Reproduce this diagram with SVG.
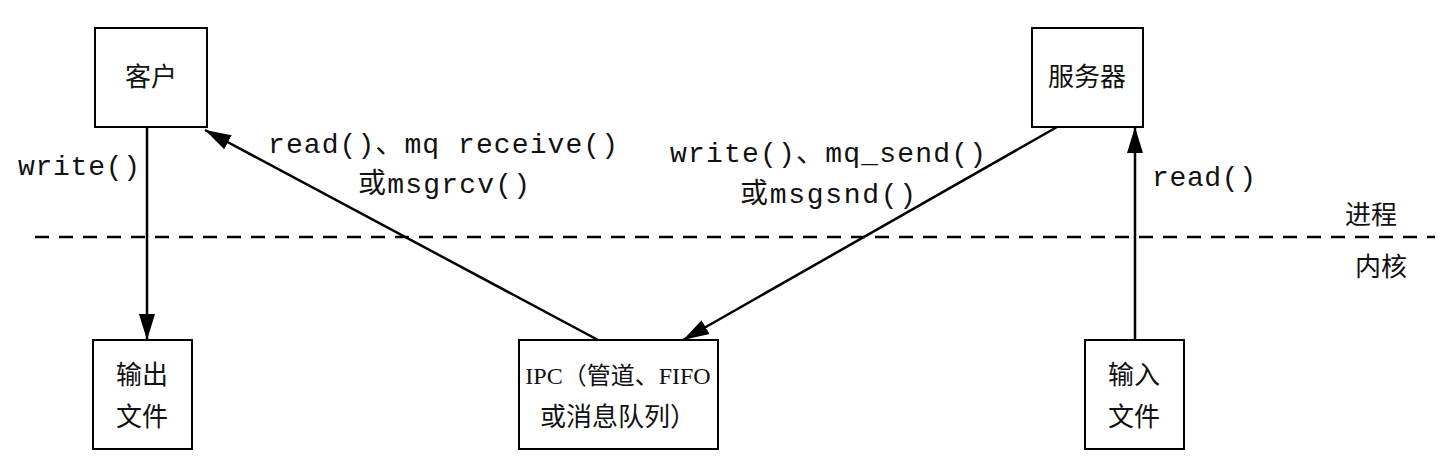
<svg xmlns="http://www.w3.org/2000/svg" width="1450" height="476" viewBox="0 0 1450 476">
<style>
.box{fill:#fff;stroke:#000;stroke-width:2}
.cn{font-family:"Noto Sans CJK SC",sans-serif;font-size:26px;fill:#111}
.ipc{font-family:"Liberation Serif","Noto Sans CJK SC",serif;font-size:24px;fill:#111}
.mono{font-family:"Liberation Mono","Noto Sans CJK SC",monospace;font-size:28px;fill:#111}
.ln{stroke:#000;stroke-width:2.5;fill:none}
</style>
<defs>
<marker id="b" markerWidth="26" markerHeight="20" refX="26" refY="10" orient="auto" markerUnits="userSpaceOnUse" viewBox="0 0 26 20"><path d="M0,2L26,10L0,18z" fill="#000"/></marker></defs>
<rect width="1450" height="476" fill="#fff"/>
<g id="client"><rect class="box" x="95" y="28" width="112" height="99"/><text class="cn" x="151" y="86" text-anchor="middle">客户</text></g>
<g id="server"><rect class="box" x="1032" y="28" width="111" height="99"/><text class="cn" x="1087" y="86" text-anchor="middle">服务器</text></g>
<g id="outfile"><rect class="box" x="93" y="340" width="99" height="109"/><text class="cn" x="142" y="384" text-anchor="middle">输出</text><text class="cn" x="142" y="426" text-anchor="middle">文件</text></g>
<g id="ipc"><rect class="box" x="519" y="340" width="199" height="109"/><text class="ipc" x="618" y="384" text-anchor="middle">IPC（管道、FIFO</text><text class="cn" x="618" y="426" text-anchor="middle">或消息队列）</text></g>
<g id="infile"><rect class="box" x="1085" y="340" width="99" height="109"/><text class="cn" x="1134" y="384" text-anchor="middle">输入</text><text class="cn" x="1134" y="426" text-anchor="middle">文件</text></g>
<g id="connectors">
<line x1="35" y1="237" x2="1435" y2="237" stroke="#000" stroke-width="2.5" stroke-dasharray="14,10"/>
<line class="ln" x1="147" y1="127" x2="147" y2="340" marker-end="url(#b)"/>
<line class="ln" x1="1135" y1="340" x2="1135" y2="127" marker-end="url(#b)"/>
<line class="ln" x1="598" y1="340" x2="205" y2="130" marker-end="url(#b)"/>
<line class="ln" x1="1057" y1="127" x2="683" y2="340" marker-end="url(#b)"/>
</g>
<g id="labels">
<text class="mono" x="18" y="175" textLength="122">write()</text>
<text class="mono" x="268" y="153" textLength="350">read()、mq receive()</text>
<text class="mono" x="358" y="193" textLength="172">或msgrcv()</text>
<text class="mono" x="670" y="162" textLength="316">write()、mq_send()</text>
<text class="mono" x="740" y="203" textLength="176">或msgsnd()</text>
<text class="mono" x="1152" y="186" textLength="104">read()</text>
<text class="cn" x="1345" y="224" font-size="28">进程</text>
<text class="cn" x="1355" y="276" font-size="28">内核</text>
</g>
</svg>
